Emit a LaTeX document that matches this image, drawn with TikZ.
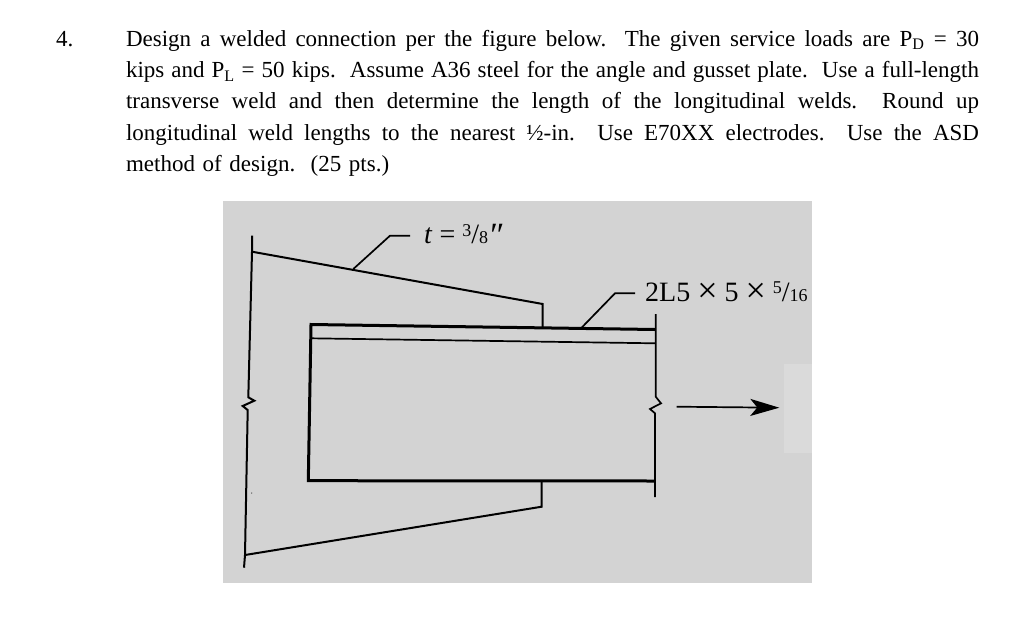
\documentclass[tikz,border=0pt]{standalone}
\usepackage{fontspec}
\setmainfont{Liberation Serif}
\usetikzlibrary{arrows.meta,positioning}
\definecolor{panelgray}{HTML}{D3D3D3}
\definecolor{patchgray}{HTML}{DADADA}
\newcommand{\fullline}[1]{\hbox to 853pt{\spaceskip=.25em plus 1fil\xspaceskip=.25em plus 1fil\relax #1}}
\newcommand{\slfrac}[2]{\raisebox{7.5pt}{\fontsize{18}{18}\selectfont #1}{\fontsize{28}{28}\selectfont/}{\fontsize{18}{18}\selectfont #2}}
\newcommand{\bigtimes}{{\fontsize{36}{36}\selectfont\raisebox{-1pt}{×}}}
\tikzset{
  textline/.style={inner sep=0pt,text width=853pt,text height=16pt,text depth=5pt,font=\fontsize{23}{27}\selectfont},
  figlabel/.style={inner sep=0pt,anchor=west,text height=16pt,text depth=0pt,font=\fontsize{28}{30}\selectfont},
  gussetline/.style={line width=2pt,line join=miter},
  angleline/.style={line width=3pt,line join=miter},
  thinline/.style={line width=1.7pt}
}
\begin{document}
\begin{tikzpicture}[x=1pt,y=-1pt,node distance=31.4pt,on grid]
   \useasboundingbox (0,0) rectangle (1024,618);
   \fill[white] (0,0) rectangle (1024,618);
   \fill[panelgray] (223,201) rectangle (812,583);
   \fill[patchgray] (784,364) rectangle (812,453);
   \node[textline] (line_1) at (552.5,40.5) {\fullline{Design a welded connection per the figure below.\ \ The given service loads are P\textsubscript{D} = 30}};
   \node[textline] (line_2) [below=of line_1] {\fullline{kips and P\textsubscript{L} = 50 kips.\ \ Assume A36 steel for the angle and gusset plate.\ \ Use a full-length}};
   \node[textline] (line_3) [below=of line_2] {\fullline{transverse weld and then determine the length of the longitudinal welds.\ \ Round up}};
   \node[textline] (line_4) [below=of line_3] {\fullline{longitudinal weld lengths to the nearest ½-in.\ \ Use E70XX electrodes.\ \ Use the ASD}};
   \node[textline] (line_5) [below=of line_4] {method of design.\ \ (25 pts.)};
   \node[inner sep=0pt,anchor=west,text height=16pt,text depth=5pt,font=\fontsize{23}{27}\selectfont] (num) at (56,40.5) {4.};
   \coordinate (g_top) at (252,235.7);
   \coordinate (g_tl) at (252,251.7);
   \coordinate (g_tr) at (542.7,304);
   \coordinate (g_trb) at (542.7,327.7);
   \coordinate (g_bot) at (244,567.7);
   \coordinate (g_bl) at (245,555);
   \coordinate (g_br) at (541.7,506.7);
   \coordinate (g_brt) at (541.7,480.7);
   \coordinate (a_tl) at (311,324.5);
   \coordinate (a_tr) at (655,329.5);
   \coordinate (a_bl) at (308.3,480.7);
   \coordinate (a_br) at (655,481);
   \coordinate (a_ml) at (311,338.3);
   \coordinate (a_mr) at (655,343.3);
   \coordinate (e_top) at (655.7,314);
   \coordinate (e_bot) at (655,497);
   \coordinate (w_1) at (353.3,269);
   \coordinate (k_1) at (390,235.7);
   \coordinate (w_2) at (581,328.3);
   \coordinate (k_2) at (615,293.3);
   \coordinate (f_s) at (676.7,406.7);
   \coordinate (f_e) at (779.3,407.7);
   \node[figlabel] (thick) [right=34pt of k_1] {\textit{t} = \slfrac{3}{8}{\fontsize{34}{34}\selectfont\raisebox{-3pt}{\textit{″}}}};
   \node[figlabel] (size) [right=30pt of k_2] {2L5 \bigtimes{} 5 \bigtimes{} \slfrac{5}{16}};
   \draw[gussetline] (g_top) -- (g_tl) -- (248.3,397.3) -- (254.3,400.7) -- (242.7,406) -- (247.7,410) -- (g_bl) -- (g_bot);
   \draw[gussetline] (g_tl) -- (g_tr) -- (g_trb);
   \draw[gussetline] (g_bl) -- (g_br) -- (g_brt);
   \draw[angleline] (a_tr) -- (a_tl) -- (a_bl) -- (a_br);
   \draw[thinline] (a_ml) -- (a_mr);
   \draw[thinline] (e_top) -- (655.7,396.7) -- (661,403.3) -- (650,409) -- (655,413.3) -- (e_bot);
   \draw[thinline,shorten >=14pt] (w_1) -- (k_1) -- (thick.west);
   \draw[thinline,shorten >=10pt] (w_2) -- (k_2) -- (size.west);
   \draw[thinline,-{Stealth[length=29pt,width=17pt,inset=7pt]}] (f_s) -- (f_e);
   \fill[black!70] (251.7,493) circle (0.7pt);
\end{tikzpicture}
\end{document}
